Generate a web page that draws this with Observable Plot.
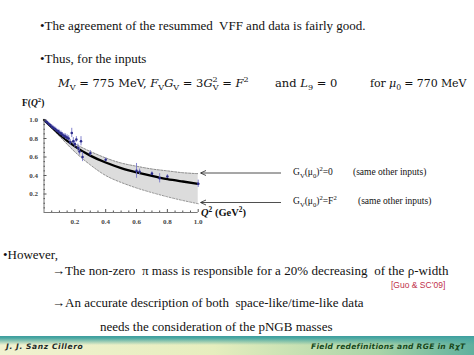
<!DOCTYPE html>
<html><head><meta charset="utf-8">
<script src="https://cdn.jsdelivr.net/npm/d3@7"></script>
<script src="https://cdn.jsdelivr.net/npm/@observablehq/plot@0.6"></script>
<style>
html,body{margin:0;padding:0;background:#fff;}
#slide{position:relative;width:474px;height:355px;overflow:hidden;font-family:"Liberation Serif","Times New Roman",serif;color:#111;}
.t{position:absolute;white-space:nowrap;line-height:1;}
#chart{position:absolute;left:15px;top:92px;}
#footer{position:absolute;left:0;top:336px;width:474px;height:19px;
 background:linear-gradient(180deg,#3d9d9f 0px,#49a7a2 2px,rgba(230,236,190,0) 9px),linear-gradient(90deg,#f1f2d0 0%,#e6eebe 45%,#a9d4a8 80%,#5fb09e 100%);}
sub,sup{font-size:70%;line-height:0;}
</style></head><body><div id="slide">
<div class="t" style="left:40px;top:19px;font-size:13px;">•The agreement of the resummed&nbsp; VFF and data is fairly good.</div>
<div class="t" style="left:40px;top:52px;font-size:13px;">•Thus, for the inputs</div>
<div class="t" style="left:58px;top:78px;font-size:11.5px;font-family:'DejaVu Serif',serif;"><i>M</i><sub>V</sub> = 775 MeV, <i>F</i><sub>V</sub><i>G</i><sub>V</sub> = 3<i>G</i><sup>2</sup><sub style="margin-left:-5px">V</sub> = <i>F</i><sup>2</sup></div>
<div class="t" style="left:275px;top:78px;font-size:11.5px;font-family:'DejaVu Serif',serif;">and <i>L</i><sub>9</sub> = 0</div>
<div class="t" style="left:370px;top:78px;font-size:11px;font-family:'DejaVu Serif',serif;letter-spacing:-0.1px;">for <i>μ</i><sub>0</sub> = 770 MeV</div>
<div class="t" style="left:22px;top:99px;font-size:9.5px;font-weight:bold;">F(<i>Q</i><sup>2</sup>)</div>
<div class="t" style="left:201px;top:208px;font-size:10.5px;font-weight:bold;"><i>Q</i><sup>2</sup> (GeV<sup>2</sup>)</div>
<div id="chart"></div>
<svg style="position:absolute;left:0;top:0" width="474" height="355">
 <g stroke="#222" stroke-width="0.8" fill="none">
  <line x1="201" y1="173" x2="281" y2="173"/><path d="M206,170.5 L200.5,173 L206,175.5"/>
  <line x1="201" y1="202.5" x2="281" y2="202.5"/><path d="M206,200 L200.5,202.5 L206,205"/>
 </g>
</svg>
<div class="t" style="left:293px;top:168px;font-size:9.5px;">G<sub>V</sub>(μ<sub>0</sub>)<sup>2</sup>=0</div>
<div class="t" style="left:353px;top:168px;font-size:9.5px;">(same other inputs)</div>
<div class="t" style="left:293px;top:197px;font-size:9.5px;">G<sub>V</sub>(μ<sub>0</sub>)<sup>2</sup>=F<sup>2</sup></div>
<div class="t" style="left:358px;top:197px;font-size:9.5px;">(same other inputs)</div>
<div class="t" style="left:3px;top:248px;font-size:13px;">•However,</div>
<div class="t" style="left:52px;top:264px;font-size:13px;letter-spacing:0.05px;">→The non-zero&nbsp; π mass is responsible for a 20% decreasing&nbsp; of the ρ-width</div>
<div class="t" style="left:391px;top:281px;font-size:8.5px;font-family:'Liberation Sans',Arial,sans-serif;color:#c0304a;">[Guo &amp; SC’09]</div>
<div class="t" style="left:52px;top:296px;font-size:13px;">→An accurate description of both&nbsp; space-like/time-like data</div>
<div class="t" style="left:100px;top:320px;font-size:13px;">needs the consideration of the pNGB masses</div>
<div id="footer"></div>
<div class="t" style="left:6px;top:343px;font-size:7.5px;font-family:'DejaVu Sans',sans-serif;font-style:italic;font-weight:bold;color:#1d2a2a;letter-spacing:0.6px;">J. J. Sanz Cillero</div>
<div class="t" style="left:311px;top:343px;font-size:7.5px;font-family:'DejaVu Sans',sans-serif;font-style:italic;font-weight:bold;color:#17481c;letter-spacing:0.3px;">Field redefinitions and RGE in RχT</div>
</div>
<script>
// Curve and band
const qGrid   = [0, 0.1, 0.2, 0.3, 0.4, 0.5, 0.6, 0.7, 0.8, 0.9, 1.0];
const central = [1.0, 0.845, 0.715, 0.615, 0.54, 0.48, 0.435, 0.395, 0.36, 0.335, 0.31];
const upper   = [1.0, 0.86, 0.745, 0.66, 0.59, 0.535, 0.50, 0.47, 0.45, 0.43, 0.42];
const lower   = [1.0, 0.825, 0.655, 0.515, 0.40, 0.325, 0.265, 0.215, 0.17, 0.13, 0.095];
// Data points
const dataQ   = [0.01,0.02,0.03,0.04,0.05,0.06,0.07,0.08,0.09,0.10,0.11,0.12,0.13,0.14,0.15,
                 0.16,0.17,0.18,0.19,0.20,0.21,0.22,0.23,0.24,0.25,0.30,0.40,0.60,0.62,0.70,0.75,0.80,1.00];
const dataF   = [0.99,0.975,0.96,0.945,0.93,0.915,0.905,0.89,0.88,0.865,0.855,0.84,0.83,0.82,0.81,
                 0.80,0.76,0.86,0.77,0.74,0.79,0.70,0.66,0.77,0.60,0.64,0.57,0.45,0.44,0.42,0.37,0.39,0.31];
const dataErr = [0.015,0.015,0.015,0.015,0.02,0.02,0.02,0.02,0.02,0.025,0.025,0.025,0.025,0.03,0.03,
                 0.03,0.03,0.05,0.04,0.04,0.03,0.04,0.04,0.05,0.05,0.03,0.02,0.08,0.03,0.02,0.05,0.02,0.04];
const xTicks = [0.2, 0.4, 0.6, 0.8, 1.0];
const yTicks = [0.2, 0.4, 0.6, 0.8, 1.0];
const xMinor = [0.05,0.1,0.15,0.25,0.3,0.35,0.45,0.5,0.55,0.65,0.7,0.75,0.85,0.9,0.95];
const yMinor = [0.05,0.1,0.15,0.25,0.3,0.35,0.45,0.5,0.55,0.65,0.7,0.75,0.85,0.9,0.95];

const band = qGrid.map((q,i)=>({q, c:central[i], hi:upper[i], lo:lower[i]}));
const pts = dataQ.map((q,i)=>({q, f:dataF[i], e:dataErr[i]}));
const crv = "natural";
const tickFont = {fontSize: 7, fontWeight: "bold", fill: "#444"};

const chart = Plot.plot({
  width: 250, height: 140,
  marginLeft: 28.5, marginRight: 67.3, marginTop: 27.5, marginBottom: 20,
  x: {domain: [0, 1]},
  y: {domain: [0, 1]},
  style: {background: "transparent", overflow: "visible", fontFamily: "Liberation Serif, serif"},
  marks: [
    Plot.areaY(band, {x: "q", y1: "lo", y2: "hi", fill: "#dcdcdc", curve: crv}),
    Plot.line(band, {x: "q", y: "hi", stroke: "#777", strokeWidth: 0.8, strokeDasharray: "2,1.5", curve: crv}),
    Plot.line(band, {x: "q", y: "lo", stroke: "#777", strokeWidth: 0.8, strokeDasharray: "2,1.5", curve: crv}),
    Plot.line(band, {x: "q", y: "c", stroke: "#000", strokeWidth: 2.3, curve: crv}),
    Plot.ruleX(pts, {x: "q", y1: d => d.f - d.e, y2: d => d.f + d.e, stroke: "#7676c8", strokeWidth: 0.9}),
    Plot.dot(pts, {x: "q", y: "f", r: 1.3, fill: "#2c2c8c", stroke: "none"}),
    Plot.ruleY([0], {stroke: "#555", strokeWidth: 0.8}),
    Plot.ruleX([0], {stroke: "#555", strokeWidth: 0.8}),
    Plot.axisX(xTicks, {tickSize: -3, tickPadding: 10, tickFormat: d3.format(".1f"), label: null, stroke: "#555", ...tickFont}),
    Plot.axisX(xMinor, {tickSize: -1.5, tickFormat: () => "", label: null, stroke: "#555"}),
    Plot.axisY(yTicks, {tickSize: -3, tickPadding: 9, tickFormat: d3.format(".1f"), label: null, stroke: "#555", ...tickFont}),
    Plot.axisY(yMinor, {tickSize: -1.5, tickFormat: () => "", label: null, stroke: "#555"})
  ]
});
document.getElementById("chart").appendChild(chart);
</script>
</body></html>
